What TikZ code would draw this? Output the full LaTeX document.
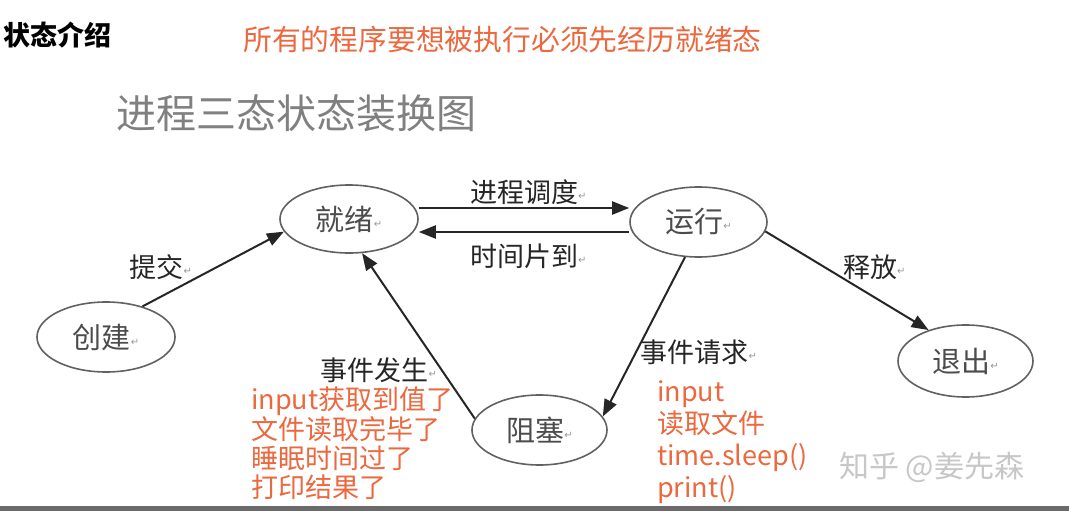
\documentclass[tikz,border=0pt]{standalone}
\usepackage{fontspec}
\setmainfont{Noto Sans CJK SC}
\newfontfamily\dejavu{DejaVu Sans}
\usetikzlibrary{shapes.geometric,arrows.meta,positioning}
\definecolor{slideorange}{RGB}{236,104,62}
\newcommand{\retmark}{\raisebox{3pt}{\dejavu\fontsize{10}{10}\selectfont\color{black!40}↵}}

\begin{document}
\begin{tikzpicture}[x=1pt,y=-1pt,
state/.style={
	% The shape:
	ellipse,
	% The size:
	minimum width=137pt,minimum height=70pt,inner sep=0pt,
	% The border:
	draw=black!62,line width=1.6pt,
	% Font
	text=black!70,font=\fontsize{29}{32}\selectfont},
trans/.style={
	% The line:
	draw=black!85,line width=2pt,
	% The tip:
	-{Triangle[length=17pt,width=13pt]}},
event/.style={text=black!85,inner sep=1pt,font=\fontsize{27}{30}\selectfont},
cause/.style={
	text=slideorange,inner sep=0pt,anchor=north west,align=left},
heading/.style={inner sep=0pt,anchor=west}]

\useasboundingbox (0,0) rectangle (1069,511);
\fill[white] (0,0) rectangle (1069,511);
\fill[black!58] (0,506) rectangle (1069,511);

%Begin headings
\node (head) [heading,font=\bfseries\fontsize{27}{30}\selectfont] at (3,35) {状态介绍};
\node (rule) [heading,text=slideorange,font=\fontsize{28.8}{32}\selectfont] at (243,40)
	{所有的程序要想被执行必须先经历就绪态};
\node (title) [heading,text=black!50,font=\fontsize{40}{44}\selectfont] at (116,113)
	{进程三态状态装换图};

%Begin states
\node (ready) [state,minimum width=138pt,minimum height=68pt] at (349,219) {就绪\retmark};
\node (run)   [state] at (698.5,222) {运行\retmark};
\node (new)   [state,minimum width=138pt] at (106,337) {创建\retmark};
\node (exit)  [state,minimum width=135pt,minimum height=72pt] at (965.5,361) {退出\retmark};
\node (block) [state,minimum width=135pt] at (539.5,430) {阻塞\retmark};

% Now come the transitions...
\draw[trans] (new.40) -- node[event,pos=0.13,above=15pt] {提交\retmark} (ready.191);
\draw[trans] ([yshift=11pt]ready.east) -- node[event,pos=0.52,above=1pt] {进程调度\retmark}
	([yshift=14pt]run.west);
\draw[trans] ([yshift=-10pt]run.west) -- node[event,pos=0.48,below=9.5pt] {时间片到\retmark}
	([yshift=-13pt]ready.east);
\draw[trans] (run.-8) -- node[event,pos=0.667,above=15pt] {释放\retmark} (exit.140);
\draw[trans] (run.249) -- node[event,pos=0.6,anchor=west,xshift=3pt] {事件请求\retmark} (block.12);
\draw[trans] (block.170) -- node[event,pos=0.29,anchor=east,xshift=-3pt] {事件发生\retmark} (ready.291);

% what triggers each event
\node (wake) [cause,font=\fontsize{27}{29}\selectfont] at (251,387)
	{input获取到值了\\文件读取完毕了\\睡眠时间过了\\打印结果了};
\node (wait) [cause,font=\fontsize{27}{32}\selectfont] at (657,380)
	{input\\读取文件\\time.sleep()\\print()};

\node (mark) [heading,text=black!22,font=\fontsize{30}{32}\selectfont] at (839,467) {知乎 @姜先森};
%End
\end{tikzpicture}
\end{document}
